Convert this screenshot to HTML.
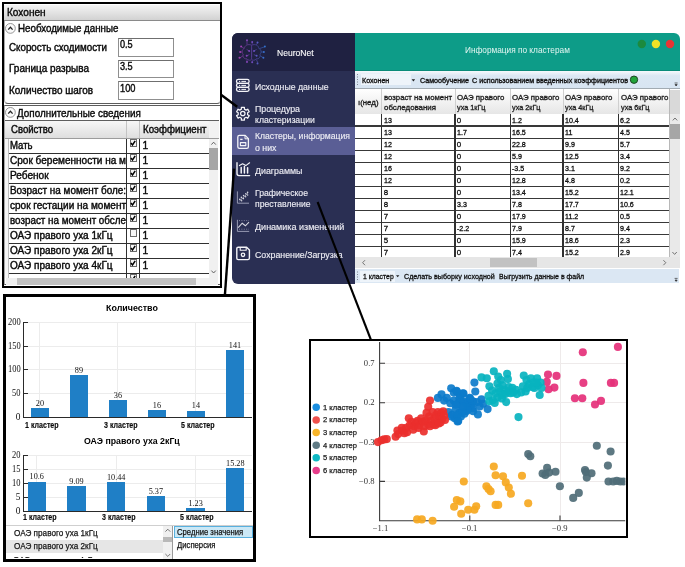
<!DOCTYPE html>
<html lang="ru"><head><meta charset="utf-8"><title>NeuroNet</title>
<style>
html,body{margin:0;padding:0;background:#fff;}
body{width:685px;height:567px;position:relative;overflow:hidden;}
.r{position:absolute;box-sizing:border-box;}
.t{position:absolute;white-space:nowrap;transform-origin:0 50%;}
svg{position:absolute;left:0;top:0;}
</style></head><body>
<div class="r " style="left:1.80px;top:1.80px;width:220.00px;height:285.90px;background:#fff;"></div>
<div class="r " style="left:4.20px;top:4.60px;width:216.00px;height:16.20px;background:linear-gradient(#f4f4f4,#d2d2d2);border-bottom:1px solid #8a8a8a;"></div>
<span class="t" style="left:6.60px;top:6.00px;font:11px/13.20px 'Liberation Sans',sans-serif;color:#0a0a0a;transform:scaleX(0.9155);-webkit-text-stroke:0.4px #0a0a0a;">Кохонен</span>
<div class="r " style="left:3.80px;top:21.20px;width:217.00px;height:82.60px;background:#fff;border:1.5px solid #5c5c5c;border-top:0;border-left:1px solid #a8a8a8;border-right:1px solid #a8a8a8;border-radius:0 0 4px 4px;"></div>
<span class="t" style="left:18.00px;top:22.24px;font:10.6px/12.72px 'Liberation Sans',sans-serif;color:#0a0a0a;transform:scaleX(0.9206);-webkit-text-stroke:0.4px #0a0a0a;">Необходимые данные</span>
<span class="t" style="left:8.60px;top:41.70px;font:10.0px/12.00px 'Liberation Sans',sans-serif;color:#0a0a0a;transform:scaleX(0.9779);-webkit-text-stroke:0.4px #0a0a0a;">Скорость сходимости</span>
<div class="r " style="left:118.00px;top:38.00px;width:55.80px;height:18.70px;background:#fff;border:1.2px solid #8f8f8f;border-top-color:#6f6f6f;"></div>
<span class="t" style="left:119.80px;top:39.16px;font:10.4px/12.48px 'Liberation Sans',sans-serif;color:#0a0a0a;transform:scaleX(0.8784);-webkit-text-stroke:0.4px #0a0a0a;">0.5</span>
<span class="t" style="left:8.60px;top:63.40px;font:10.0px/12.00px 'Liberation Sans',sans-serif;color:#0a0a0a;transform:scaleX(0.9968);-webkit-text-stroke:0.4px #0a0a0a;">Граница разрыва</span>
<div class="r " style="left:118.00px;top:59.70px;width:55.80px;height:18.70px;background:#fff;border:1.2px solid #8f8f8f;border-top-color:#6f6f6f;"></div>
<span class="t" style="left:119.80px;top:60.86px;font:10.4px/12.48px 'Liberation Sans',sans-serif;color:#0a0a0a;transform:scaleX(0.8784);-webkit-text-stroke:0.4px #0a0a0a;">3.5</span>
<span class="t" style="left:8.60px;top:85.10px;font:10.0px/12.00px 'Liberation Sans',sans-serif;color:#0a0a0a;transform:scaleX(0.9957);-webkit-text-stroke:0.4px #0a0a0a;">Количество шагов</span>
<div class="r " style="left:118.00px;top:81.40px;width:55.80px;height:18.70px;background:#fff;border:1.2px solid #8f8f8f;border-top-color:#6f6f6f;"></div>
<span class="t" style="left:119.80px;top:82.56px;font:10.4px/12.48px 'Liberation Sans',sans-serif;color:#0a0a0a;transform:scaleX(0.8933);-webkit-text-stroke:0.4px #0a0a0a;">100</span>
<div class="r " style="left:3.80px;top:105.20px;width:217.00px;height:179.80px;background:#fff;border:1.5px solid #5c5c5c;border-left:1px solid #a8a8a8;border-right:1px solid #a8a8a8;"></div>
<svg width="685" height="567" viewBox="0 0 685 567" style="pointer-events:none"><circle cx="10.4" cy="28.4" r="4.9" fill="#fafafa" stroke="#8a8a8a" stroke-width="0.9"/><path d="M8.2 29.6 L10.4 27.2 L12.6 29.6" fill="none" stroke="#222" stroke-width="1.3"/><circle cx="10.4" cy="112.4" r="4.9" fill="#fafafa" stroke="#8a8a8a" stroke-width="0.9"/><path d="M8.2 113.6 L10.4 111.2 L12.6 113.6" fill="none" stroke="#222" stroke-width="1.3"/></svg>
<span class="t" style="left:17.20px;top:106.74px;font:10.6px/12.72px 'Liberation Sans',sans-serif;color:#0a0a0a;transform:scaleX(0.9329);-webkit-text-stroke:0.4px #0a0a0a;">Дополнительные сведения</span>
<div class="r " style="left:4.80px;top:119.60px;width:214.40px;height:19.20px;background:linear-gradient(#f7f7f7,#dedede);border-top:1.2px solid #5e5e5e;border-bottom:1px solid #9c9c9c;"></div>
<span class="t" style="left:10.70px;top:123.80px;font:10.0px/12.00px 'Liberation Sans',sans-serif;color:#0a0a0a;transform:scaleX(0.9565);-webkit-text-stroke:0.4px #0a0a0a;">Свойство</span>
<span class="t" style="left:142.80px;top:123.90px;font:10.0px/12.00px 'Liberation Sans',sans-serif;color:#0a0a0a;transform:scaleX(0.9694);-webkit-text-stroke:0.4px #0a0a0a;">Коэффициент</span>
<div class="r " style="left:209.20px;top:120.80px;width:10.00px;height:17.60px;background:#f2f2f2;"></div>
<div class="r " style="left:125.50px;top:120.60px;width:1.00px;height:17.80px;background:#c4c4c4;"></div>
<div class="r " style="left:139.10px;top:120.60px;width:1.00px;height:17.80px;background:#c4c4c4;"></div>
<div class="r" style="left:5.6px;top:138.8px;width:203.6px;height:138.8px;overflow:hidden;">
<span class="t" style="left:4.30px;top:1.50px;font:10.0px/12.00px 'Liberation Sans',sans-serif;color:#0a0a0a;transform:scaleX(0.9587);-webkit-text-stroke:0.4px #0a0a0a;">Мать</span>
<div class="r " style="left:0.00px;top:14.40px;width:203.60px;height:1.30px;background:#303030;"></div>
<div class="r " style="left:124.00px;top:0.50px;width:7.60px;height:7.60px;background:#f6f6f6;border:1px solid #6a6a6a;"></div>
<svg width="10" height="10" style="left:122.80px;top:-0.70px"><path d="M2.9 5 L4.5 6.9 L7.2 2.9" fill="none" stroke="#000" stroke-width="1.5"/></svg>
<span class="t" style="left:137.00px;top:0.88px;font:10.2px/12.24px 'Liberation Sans',sans-serif;color:#0a0a0a;-webkit-text-stroke:0.4px #0a0a0a;">1</span>
<span class="t" style="left:4.30px;top:16.50px;font:10.0px/12.00px 'Liberation Sans',sans-serif;color:#0a0a0a;transform:scaleX(1.0041);-webkit-text-stroke:0.4px #0a0a0a;">Срок беременности на м</span>
<div class="r " style="left:0.00px;top:29.40px;width:203.60px;height:1.30px;background:#303030;"></div>
<div class="r " style="left:124.00px;top:15.50px;width:7.60px;height:7.60px;background:#f6f6f6;border:1px solid #6a6a6a;"></div>
<svg width="10" height="10" style="left:122.80px;top:14.30px"><path d="M2.9 5 L4.5 6.9 L7.2 2.9" fill="none" stroke="#000" stroke-width="1.5"/></svg>
<span class="t" style="left:137.00px;top:15.88px;font:10.2px/12.24px 'Liberation Sans',sans-serif;color:#0a0a0a;-webkit-text-stroke:0.4px #0a0a0a;">1</span>
<span class="t" style="left:4.30px;top:31.50px;font:10.0px/12.00px 'Liberation Sans',sans-serif;color:#0a0a0a;transform:scaleX(1.0074);-webkit-text-stroke:0.4px #0a0a0a;">Ребенок</span>
<div class="r " style="left:0.00px;top:44.40px;width:203.60px;height:1.30px;background:#303030;"></div>
<div class="r " style="left:124.00px;top:30.50px;width:7.60px;height:7.60px;background:#f6f6f6;border:1px solid #6a6a6a;"></div>
<svg width="10" height="10" style="left:122.80px;top:29.30px"><path d="M2.9 5 L4.5 6.9 L7.2 2.9" fill="none" stroke="#000" stroke-width="1.5"/></svg>
<span class="t" style="left:137.00px;top:30.88px;font:10.2px/12.24px 'Liberation Sans',sans-serif;color:#0a0a0a;-webkit-text-stroke:0.4px #0a0a0a;">1</span>
<span class="t" style="left:4.30px;top:46.50px;font:10.0px/12.00px 'Liberation Sans',sans-serif;color:#0a0a0a;transform:scaleX(0.9911);-webkit-text-stroke:0.4px #0a0a0a;">Возраст на момент боле:</span>
<div class="r " style="left:0.00px;top:59.40px;width:203.60px;height:1.30px;background:#303030;"></div>
<div class="r " style="left:124.00px;top:45.50px;width:7.60px;height:7.60px;background:#f6f6f6;border:1px solid #6a6a6a;"></div>
<svg width="10" height="10" style="left:122.80px;top:44.30px"><path d="M2.9 5 L4.5 6.9 L7.2 2.9" fill="none" stroke="#000" stroke-width="1.5"/></svg>
<span class="t" style="left:137.00px;top:45.88px;font:10.2px/12.24px 'Liberation Sans',sans-serif;color:#0a0a0a;-webkit-text-stroke:0.4px #0a0a0a;">1</span>
<span class="t" style="left:4.30px;top:61.50px;font:10.0px/12.00px 'Liberation Sans',sans-serif;color:#0a0a0a;transform:scaleX(1.0016);-webkit-text-stroke:0.4px #0a0a0a;">срок гестации на момент</span>
<div class="r " style="left:0.00px;top:74.40px;width:203.60px;height:1.30px;background:#303030;"></div>
<div class="r " style="left:124.00px;top:60.50px;width:7.60px;height:7.60px;background:#f6f6f6;border:1px solid #6a6a6a;"></div>
<svg width="10" height="10" style="left:122.80px;top:59.30px"><path d="M2.9 5 L4.5 6.9 L7.2 2.9" fill="none" stroke="#000" stroke-width="1.5"/></svg>
<span class="t" style="left:137.00px;top:60.88px;font:10.2px/12.24px 'Liberation Sans',sans-serif;color:#0a0a0a;-webkit-text-stroke:0.4px #0a0a0a;">1</span>
<span class="t" style="left:4.30px;top:76.50px;font:10.0px/12.00px 'Liberation Sans',sans-serif;color:#0a0a0a;transform:scaleX(0.9838);-webkit-text-stroke:0.4px #0a0a0a;">возраст на момент обсле</span>
<div class="r " style="left:0.00px;top:89.40px;width:203.60px;height:1.30px;background:#303030;"></div>
<div class="r " style="left:124.00px;top:75.50px;width:7.60px;height:7.60px;background:#f6f6f6;border:1px solid #6a6a6a;"></div>
<svg width="10" height="10" style="left:122.80px;top:74.30px"><path d="M2.9 5 L4.5 6.9 L7.2 2.9" fill="none" stroke="#000" stroke-width="1.5"/></svg>
<span class="t" style="left:137.00px;top:75.88px;font:10.2px/12.24px 'Liberation Sans',sans-serif;color:#0a0a0a;-webkit-text-stroke:0.4px #0a0a0a;">1</span>
<span class="t" style="left:4.30px;top:91.50px;font:10.0px/12.00px 'Liberation Sans',sans-serif;color:#0a0a0a;transform:scaleX(1.0025);-webkit-text-stroke:0.4px #0a0a0a;">ОАЭ правого уха 1кГц</span>
<div class="r " style="left:0.00px;top:104.40px;width:203.60px;height:1.30px;background:#303030;"></div>
<div class="r " style="left:124.00px;top:90.50px;width:7.60px;height:7.60px;background:#f6f6f6;border:1px solid #6a6a6a;"></div>
<span class="t" style="left:137.00px;top:90.88px;font:10.2px/12.24px 'Liberation Sans',sans-serif;color:#0a0a0a;-webkit-text-stroke:0.4px #0a0a0a;">1</span>
<span class="t" style="left:4.30px;top:106.50px;font:10.0px/12.00px 'Liberation Sans',sans-serif;color:#0a0a0a;transform:scaleX(1.0025);-webkit-text-stroke:0.4px #0a0a0a;">ОАЭ правого уха 2кГц</span>
<div class="r " style="left:0.00px;top:119.40px;width:203.60px;height:1.30px;background:#303030;"></div>
<div class="r " style="left:124.00px;top:105.50px;width:7.60px;height:7.60px;background:#f6f6f6;border:1px solid #6a6a6a;"></div>
<svg width="10" height="10" style="left:122.80px;top:104.30px"><path d="M2.9 5 L4.5 6.9 L7.2 2.9" fill="none" stroke="#000" stroke-width="1.5"/></svg>
<span class="t" style="left:137.00px;top:105.88px;font:10.2px/12.24px 'Liberation Sans',sans-serif;color:#0a0a0a;-webkit-text-stroke:0.4px #0a0a0a;">1</span>
<span class="t" style="left:4.30px;top:121.50px;font:10.0px/12.00px 'Liberation Sans',sans-serif;color:#0a0a0a;transform:scaleX(1.0025);-webkit-text-stroke:0.4px #0a0a0a;">ОАЭ правого уха 4кГц</span>
<div class="r " style="left:0.00px;top:134.40px;width:203.60px;height:1.30px;background:#303030;"></div>
<div class="r " style="left:124.00px;top:120.50px;width:7.60px;height:7.60px;background:#f6f6f6;border:1px solid #6a6a6a;"></div>
<svg width="10" height="10" style="left:122.80px;top:119.30px"><path d="M2.9 5 L4.5 6.9 L7.2 2.9" fill="none" stroke="#000" stroke-width="1.5"/></svg>
<span class="t" style="left:137.00px;top:120.88px;font:10.2px/12.24px 'Liberation Sans',sans-serif;color:#0a0a0a;-webkit-text-stroke:0.4px #0a0a0a;">1</span>
<div class="r " style="left:0.00px;top:149.40px;width:203.60px;height:1.30px;background:#303030;"></div>
<div class="r " style="left:124.00px;top:135.50px;width:7.60px;height:7.60px;background:#f6f6f6;border:1px solid #6a6a6a;"></div>
<svg width="10" height="10" style="left:122.80px;top:134.30px"><path d="M2.9 5 L4.5 6.9 L7.2 2.9" fill="none" stroke="#000" stroke-width="1.5"/></svg>
<div class="r " style="left:120.20px;top:0.00px;width:1.60px;height:140.00px;background:#303030;"></div>
<div class="r " style="left:133.50px;top:0.00px;width:1.40px;height:140.00px;background:#303030;"></div>
</div>
<div class="r " style="left:4.80px;top:138.80px;width:3.80px;height:138.80px;background:#f7f7f7;border-right:1px solid #bdbdbd;"></div>
<div class="r " style="left:209.20px;top:138.80px;width:8.40px;height:138.80px;background:#f0f0f0;"></div>
<div class="r " style="left:209.20px;top:148.00px;width:8.40px;height:22.40px;background:#a6a6a6;"></div>
<svg width="685" height="567" viewBox="0 0 685 567"><path d="M211.4 144.6 L213.6 142.2 L215.8 144.6 M211.4 270.6 L213.6 273 L215.8 270.6" fill="none" stroke="#555" stroke-width="0.9"/><path d="M12.4 279.4 L10.4 281.4 L12.4 283.4 M203.6 279.4 L205.6 281.4 L203.6 283.4" fill="none" stroke="#555" stroke-width="0.9"/></svg>
<div class="r " style="left:5.60px;top:277.60px;width:212.00px;height:7.40px;background:#f0f0f0;"></div>
<div class="r " style="left:16.50px;top:277.60px;width:179.50px;height:7.40px;background:#c2c2c2;"></div>
<div class="r " style="left:1.80px;top:1.80px;width:220.00px;height:285.90px;border:2.8px solid #000;"></div>
<div class="r " style="left:232.20px;top:32.80px;width:123.00px;height:251.00px;background:#2a2f53;border-radius:6px 0 0 6px;overflow:hidden;"></div>
<div class="r " style="left:232.20px;top:32.80px;width:123.00px;height:38.00px;background:#1f2141;border-radius:6px 0 0 0;"></div>
<div class="r " style="left:232.20px;top:127.20px;width:123.00px;height:28.00px;background:#5a5e95;"></div>
<span class="t" style="left:276.80px;top:47.78px;font:9.2px/11.04px 'Liberation Sans',sans-serif;color:#fff;transform:scaleX(0.9295);-webkit-text-stroke:0.1px #fff;">NeuroNet</span>
<span class="t" style="left:254.60px;top:80.50px;font:9.5px/11.40px 'Liberation Sans',sans-serif;color:#ececf3;transform:scaleX(0.9169);-webkit-text-stroke:0.15px #ececf3;">Исходные данные</span>
<span class="t" style="left:254.60px;top:102.60px;font:9.5px/11.40px 'Liberation Sans',sans-serif;color:#ececf3;transform:scaleX(0.9267);-webkit-text-stroke:0.15px #ececf3;">Процедура</span>
<span class="t" style="left:254.60px;top:114.30px;font:9.5px/11.40px 'Liberation Sans',sans-serif;color:#ececf3;transform:scaleX(0.9109);-webkit-text-stroke:0.15px #ececf3;">кластеризации</span>
<span class="t" style="left:254.60px;top:130.40px;font:9.5px/11.40px 'Liberation Sans',sans-serif;color:#ececf3;transform:scaleX(0.9076);-webkit-text-stroke:0.15px #ececf3;">Кластеры, информация</span>
<span class="t" style="left:254.60px;top:141.90px;font:9.5px/11.40px 'Liberation Sans',sans-serif;color:#ececf3;transform:scaleX(0.9257);-webkit-text-stroke:0.15px #ececf3;">о них</span>
<span class="t" style="left:254.60px;top:165.40px;font:9.5px/11.40px 'Liberation Sans',sans-serif;color:#ececf3;transform:scaleX(0.9304);-webkit-text-stroke:0.15px #ececf3;">Диаграммы</span>
<span class="t" style="left:254.60px;top:186.80px;font:9.5px/11.40px 'Liberation Sans',sans-serif;color:#ececf3;transform:scaleX(0.9120);-webkit-text-stroke:0.15px #ececf3;">Графическое</span>
<span class="t" style="left:254.60px;top:198.10px;font:9.5px/11.40px 'Liberation Sans',sans-serif;color:#ececf3;transform:scaleX(0.9043);-webkit-text-stroke:0.15px #ececf3;">преставление</span>
<span class="t" style="left:254.60px;top:220.80px;font:9.5px/11.40px 'Liberation Sans',sans-serif;color:#ececf3;transform:scaleX(0.9484);-webkit-text-stroke:0.15px #ececf3;">Динамика изменений</span>
<span class="t" style="left:254.60px;top:248.80px;font:9.5px/11.40px 'Liberation Sans',sans-serif;color:#ececf3;transform:scaleX(0.9253);-webkit-text-stroke:0.15px #ececf3;">Сохранение/Загрузка</span>
<div class="r " style="left:355.20px;top:32.80px;width:324.70px;height:38.20px;background:#0d9c88;border-radius:0 6px 0 0;border-bottom:1px solid #0a8b79;"></div>
<span class="t" style="left:464.80px;top:44.78px;font:9.2px/11.04px 'Liberation Sans',sans-serif;color:#e4f6f2;transform:scaleX(0.9010);">Информация по кластерам</span>
<svg width="685" height="567" viewBox="0 0 685 567"><circle cx="641.8" cy="44" r="4.2" fill="#1c8a3e"/><circle cx="655.9" cy="44" r="4.2" fill="#efe326"/><circle cx="670" cy="44" r="4.2" fill="#e83434"/></svg>
<div class="r " style="left:355.20px;top:71.00px;width:324.70px;height:17.20px;background:linear-gradient(#f6f9fc,#dbe7f3 28%,#d8e5f2);"></div>
<div class="r " style="left:360.60px;top:74.00px;width:50.00px;height:11.20px;background:#eef4fa;"></div>
<span class="t" style="left:362.40px;top:75.90px;font:7.5px/9.00px 'Liberation Sans',sans-serif;color:#111;transform:scaleX(0.9496);-webkit-text-stroke:0.35px #111;">Кохонен</span>
<span class="t" style="left:419.50px;top:75.90px;font:7.5px/9.00px 'Liberation Sans',sans-serif;color:#111;transform:scaleX(0.9490);-webkit-text-stroke:0.35px #111;">Самообучение</span>
<span class="t" style="left:472.00px;top:75.90px;font:7.5px/9.00px 'Liberation Sans',sans-serif;color:#111;transform:scaleX(0.9554);-webkit-text-stroke:0.35px #111;">С использованием введенных коэффициентов</span>
<div class="r " style="left:355.20px;top:88.10px;width:324.70px;height:25.90px;background:linear-gradient(#ffffff,#e6e6e6);border-top:1.1px solid #a2abb2;"></div>
<div class="r " style="left:670.30px;top:89.60px;width:9.60px;height:24.40px;background:#d9d9d9;"></div>
<div class="r " style="left:381.40px;top:89.00px;width:1.00px;height:24.60px;background:#cfcfcf;"></div>
<div class="r " style="left:454.50px;top:89.00px;width:1.00px;height:24.60px;background:#cfcfcf;"></div>
<div class="r " style="left:509.70px;top:89.00px;width:1.00px;height:24.60px;background:#cfcfcf;"></div>
<div class="r " style="left:562.50px;top:89.00px;width:1.00px;height:24.60px;background:#cfcfcf;"></div>
<div class="r " style="left:618.20px;top:89.00px;width:1.00px;height:24.60px;background:#cfcfcf;"></div>
<div class="r " style="left:669.30px;top:89.00px;width:1.00px;height:24.60px;background:#cfcfcf;"></div>
<span class="t" style="left:358.00px;top:97.72px;font:7.8px/9.36px 'Liberation Sans',sans-serif;color:#1c1c1c;transform:scaleX(1.0055);-webkit-text-stroke:0.32px #1c1c1c;">ı(нед)</span>
<span class="t" style="left:383.50px;top:92.50px;font:8.0px/9.60px 'Liberation Sans',sans-serif;color:#1c1c1c;transform:scaleX(0.9708);-webkit-text-stroke:0.32px #1c1c1c;">возраст на момент</span>
<span class="t" style="left:383.50px;top:102.70px;font:8.0px/9.60px 'Liberation Sans',sans-serif;color:#1c1c1c;transform:scaleX(0.9843);-webkit-text-stroke:0.32px #1c1c1c;">обследования</span>
<span class="t" style="left:457.20px;top:92.50px;font:8.0px/9.60px 'Liberation Sans',sans-serif;color:#1c1c1c;transform:scaleX(0.9832);-webkit-text-stroke:0.32px #1c1c1c;">ОАЭ правого</span>
<span class="t" style="left:457.20px;top:102.70px;font:8.0px/9.60px 'Liberation Sans',sans-serif;color:#1c1c1c;transform:scaleX(0.9063);-webkit-text-stroke:0.32px #1c1c1c;">уха 1кГц</span>
<span class="t" style="left:512.40px;top:92.50px;font:8.0px/9.60px 'Liberation Sans',sans-serif;color:#1c1c1c;transform:scaleX(0.9832);-webkit-text-stroke:0.32px #1c1c1c;">ОАЭ правого</span>
<span class="t" style="left:512.40px;top:102.70px;font:8.0px/9.60px 'Liberation Sans',sans-serif;color:#1c1c1c;transform:scaleX(0.9063);-webkit-text-stroke:0.32px #1c1c1c;">уха 2кГц</span>
<span class="t" style="left:565.20px;top:92.50px;font:8.0px/9.60px 'Liberation Sans',sans-serif;color:#1c1c1c;transform:scaleX(0.9832);-webkit-text-stroke:0.32px #1c1c1c;">ОАЭ правого</span>
<span class="t" style="left:565.20px;top:102.70px;font:8.0px/9.60px 'Liberation Sans',sans-serif;color:#1c1c1c;transform:scaleX(0.9063);-webkit-text-stroke:0.32px #1c1c1c;">уха 4кГц</span>
<span class="t" style="left:620.90px;top:92.50px;font:8.0px/9.60px 'Liberation Sans',sans-serif;color:#1c1c1c;transform:scaleX(0.9832);-webkit-text-stroke:0.32px #1c1c1c;">ОАЭ правого</span>
<span class="t" style="left:620.90px;top:102.70px;font:8.0px/9.60px 'Liberation Sans',sans-serif;color:#1c1c1c;transform:scaleX(0.9063);-webkit-text-stroke:0.32px #1c1c1c;">уха 6кГц</span>
<div class="r" style="left:355.2px;top:114.0px;width:314.6px;height:143.2px;overflow:hidden;background:#fff;">
<div class="r " style="left:0.00px;top:11.48px;width:314.60px;height:1.20px;background:#383838;"></div>
<span class="t" style="left:28.50px;top:1.56px;font:7.9px/9.48px 'Liberation Sans',sans-serif;color:#0c0c0c;transform:scaleX(0.9000);-webkit-text-stroke:0.3px #0c0c0c;">13</span>
<span class="t" style="left:101.60px;top:1.56px;font:7.9px/9.48px 'Liberation Sans',sans-serif;color:#0c0c0c;-webkit-text-stroke:0.3px #0c0c0c;">0</span>
<span class="t" style="left:156.80px;top:1.56px;font:7.9px/9.48px 'Liberation Sans',sans-serif;color:#0c0c0c;transform:scaleX(0.9000);-webkit-text-stroke:0.3px #0c0c0c;">1.2</span>
<span class="t" style="left:209.60px;top:1.56px;font:7.9px/9.48px 'Liberation Sans',sans-serif;color:#0c0c0c;transform:scaleX(0.9000);-webkit-text-stroke:0.3px #0c0c0c;">10.4</span>
<span class="t" style="left:265.30px;top:1.56px;font:7.9px/9.48px 'Liberation Sans',sans-serif;color:#0c0c0c;transform:scaleX(0.9000);-webkit-text-stroke:0.3px #0c0c0c;">6.2</span>
<div class="r " style="left:0.00px;top:23.56px;width:314.60px;height:1.20px;background:#383838;"></div>
<span class="t" style="left:28.50px;top:13.64px;font:7.9px/9.48px 'Liberation Sans',sans-serif;color:#0c0c0c;transform:scaleX(0.9000);-webkit-text-stroke:0.3px #0c0c0c;">13</span>
<span class="t" style="left:101.60px;top:13.64px;font:7.9px/9.48px 'Liberation Sans',sans-serif;color:#0c0c0c;transform:scaleX(0.9000);-webkit-text-stroke:0.3px #0c0c0c;">1.7</span>
<span class="t" style="left:156.80px;top:13.64px;font:7.9px/9.48px 'Liberation Sans',sans-serif;color:#0c0c0c;transform:scaleX(0.9000);-webkit-text-stroke:0.3px #0c0c0c;">16.5</span>
<span class="t" style="left:209.60px;top:13.64px;font:7.9px/9.48px 'Liberation Sans',sans-serif;color:#0c0c0c;transform:scaleX(0.9000);-webkit-text-stroke:0.3px #0c0c0c;">11</span>
<span class="t" style="left:265.30px;top:13.64px;font:7.9px/9.48px 'Liberation Sans',sans-serif;color:#0c0c0c;transform:scaleX(0.9000);-webkit-text-stroke:0.3px #0c0c0c;">4.5</span>
<div class="r " style="left:0.00px;top:35.64px;width:314.60px;height:1.20px;background:#383838;"></div>
<span class="t" style="left:28.50px;top:25.72px;font:7.9px/9.48px 'Liberation Sans',sans-serif;color:#0c0c0c;transform:scaleX(0.9000);-webkit-text-stroke:0.3px #0c0c0c;">12</span>
<span class="t" style="left:101.60px;top:25.72px;font:7.9px/9.48px 'Liberation Sans',sans-serif;color:#0c0c0c;-webkit-text-stroke:0.3px #0c0c0c;">0</span>
<span class="t" style="left:156.80px;top:25.72px;font:7.9px/9.48px 'Liberation Sans',sans-serif;color:#0c0c0c;transform:scaleX(0.9000);-webkit-text-stroke:0.3px #0c0c0c;">22.8</span>
<span class="t" style="left:209.60px;top:25.72px;font:7.9px/9.48px 'Liberation Sans',sans-serif;color:#0c0c0c;transform:scaleX(0.9000);-webkit-text-stroke:0.3px #0c0c0c;">9.9</span>
<span class="t" style="left:265.30px;top:25.72px;font:7.9px/9.48px 'Liberation Sans',sans-serif;color:#0c0c0c;transform:scaleX(0.9000);-webkit-text-stroke:0.3px #0c0c0c;">5.7</span>
<div class="r " style="left:0.00px;top:47.72px;width:314.60px;height:1.20px;background:#383838;"></div>
<span class="t" style="left:28.50px;top:37.80px;font:7.9px/9.48px 'Liberation Sans',sans-serif;color:#0c0c0c;transform:scaleX(0.9000);-webkit-text-stroke:0.3px #0c0c0c;">12</span>
<span class="t" style="left:101.60px;top:37.80px;font:7.9px/9.48px 'Liberation Sans',sans-serif;color:#0c0c0c;-webkit-text-stroke:0.3px #0c0c0c;">0</span>
<span class="t" style="left:156.80px;top:37.80px;font:7.9px/9.48px 'Liberation Sans',sans-serif;color:#0c0c0c;transform:scaleX(0.9000);-webkit-text-stroke:0.3px #0c0c0c;">5.9</span>
<span class="t" style="left:209.60px;top:37.80px;font:7.9px/9.48px 'Liberation Sans',sans-serif;color:#0c0c0c;transform:scaleX(0.9000);-webkit-text-stroke:0.3px #0c0c0c;">12.5</span>
<span class="t" style="left:265.30px;top:37.80px;font:7.9px/9.48px 'Liberation Sans',sans-serif;color:#0c0c0c;transform:scaleX(0.9000);-webkit-text-stroke:0.3px #0c0c0c;">3.4</span>
<div class="r " style="left:0.00px;top:59.80px;width:314.60px;height:1.20px;background:#383838;"></div>
<span class="t" style="left:28.50px;top:49.88px;font:7.9px/9.48px 'Liberation Sans',sans-serif;color:#0c0c0c;transform:scaleX(0.9000);-webkit-text-stroke:0.3px #0c0c0c;">16</span>
<span class="t" style="left:101.60px;top:49.88px;font:7.9px/9.48px 'Liberation Sans',sans-serif;color:#0c0c0c;-webkit-text-stroke:0.3px #0c0c0c;">0</span>
<span class="t" style="left:156.80px;top:49.88px;font:7.9px/9.48px 'Liberation Sans',sans-serif;color:#0c0c0c;transform:scaleX(0.9000);-webkit-text-stroke:0.3px #0c0c0c;">-3.5</span>
<span class="t" style="left:209.60px;top:49.88px;font:7.9px/9.48px 'Liberation Sans',sans-serif;color:#0c0c0c;transform:scaleX(0.9000);-webkit-text-stroke:0.3px #0c0c0c;">3.1</span>
<span class="t" style="left:265.30px;top:49.88px;font:7.9px/9.48px 'Liberation Sans',sans-serif;color:#0c0c0c;transform:scaleX(0.9000);-webkit-text-stroke:0.3px #0c0c0c;">9.2</span>
<div class="r " style="left:0.00px;top:71.88px;width:314.60px;height:1.20px;background:#383838;"></div>
<span class="t" style="left:28.50px;top:61.96px;font:7.9px/9.48px 'Liberation Sans',sans-serif;color:#0c0c0c;transform:scaleX(0.9000);-webkit-text-stroke:0.3px #0c0c0c;">12</span>
<span class="t" style="left:101.60px;top:61.96px;font:7.9px/9.48px 'Liberation Sans',sans-serif;color:#0c0c0c;-webkit-text-stroke:0.3px #0c0c0c;">0</span>
<span class="t" style="left:156.80px;top:61.96px;font:7.9px/9.48px 'Liberation Sans',sans-serif;color:#0c0c0c;transform:scaleX(0.9000);-webkit-text-stroke:0.3px #0c0c0c;">12.8</span>
<span class="t" style="left:209.60px;top:61.96px;font:7.9px/9.48px 'Liberation Sans',sans-serif;color:#0c0c0c;transform:scaleX(0.9000);-webkit-text-stroke:0.3px #0c0c0c;">4.8</span>
<span class="t" style="left:265.30px;top:61.96px;font:7.9px/9.48px 'Liberation Sans',sans-serif;color:#0c0c0c;transform:scaleX(0.9000);-webkit-text-stroke:0.3px #0c0c0c;">0.2</span>
<div class="r " style="left:0.00px;top:83.96px;width:314.60px;height:1.20px;background:#383838;"></div>
<span class="t" style="left:28.50px;top:74.04px;font:7.9px/9.48px 'Liberation Sans',sans-serif;color:#0c0c0c;-webkit-text-stroke:0.3px #0c0c0c;">8</span>
<span class="t" style="left:101.60px;top:74.04px;font:7.9px/9.48px 'Liberation Sans',sans-serif;color:#0c0c0c;-webkit-text-stroke:0.3px #0c0c0c;">0</span>
<span class="t" style="left:156.80px;top:74.04px;font:7.9px/9.48px 'Liberation Sans',sans-serif;color:#0c0c0c;transform:scaleX(0.9000);-webkit-text-stroke:0.3px #0c0c0c;">13.4</span>
<span class="t" style="left:209.60px;top:74.04px;font:7.9px/9.48px 'Liberation Sans',sans-serif;color:#0c0c0c;transform:scaleX(0.9000);-webkit-text-stroke:0.3px #0c0c0c;">15.2</span>
<span class="t" style="left:265.30px;top:74.04px;font:7.9px/9.48px 'Liberation Sans',sans-serif;color:#0c0c0c;transform:scaleX(0.9000);-webkit-text-stroke:0.3px #0c0c0c;">12.1</span>
<div class="r " style="left:0.00px;top:96.04px;width:314.60px;height:1.20px;background:#383838;"></div>
<span class="t" style="left:28.50px;top:86.12px;font:7.9px/9.48px 'Liberation Sans',sans-serif;color:#0c0c0c;-webkit-text-stroke:0.3px #0c0c0c;">8</span>
<span class="t" style="left:101.60px;top:86.12px;font:7.9px/9.48px 'Liberation Sans',sans-serif;color:#0c0c0c;transform:scaleX(0.9000);-webkit-text-stroke:0.3px #0c0c0c;">3.3</span>
<span class="t" style="left:156.80px;top:86.12px;font:7.9px/9.48px 'Liberation Sans',sans-serif;color:#0c0c0c;transform:scaleX(0.9000);-webkit-text-stroke:0.3px #0c0c0c;">7.8</span>
<span class="t" style="left:209.60px;top:86.12px;font:7.9px/9.48px 'Liberation Sans',sans-serif;color:#0c0c0c;transform:scaleX(0.9000);-webkit-text-stroke:0.3px #0c0c0c;">17.7</span>
<span class="t" style="left:265.30px;top:86.12px;font:7.9px/9.48px 'Liberation Sans',sans-serif;color:#0c0c0c;transform:scaleX(0.9000);-webkit-text-stroke:0.3px #0c0c0c;">10.6</span>
<div class="r " style="left:0.00px;top:108.12px;width:314.60px;height:1.20px;background:#383838;"></div>
<span class="t" style="left:28.50px;top:98.20px;font:7.9px/9.48px 'Liberation Sans',sans-serif;color:#0c0c0c;-webkit-text-stroke:0.3px #0c0c0c;">7</span>
<span class="t" style="left:101.60px;top:98.20px;font:7.9px/9.48px 'Liberation Sans',sans-serif;color:#0c0c0c;-webkit-text-stroke:0.3px #0c0c0c;">0</span>
<span class="t" style="left:156.80px;top:98.20px;font:7.9px/9.48px 'Liberation Sans',sans-serif;color:#0c0c0c;transform:scaleX(0.9000);-webkit-text-stroke:0.3px #0c0c0c;">17.9</span>
<span class="t" style="left:209.60px;top:98.20px;font:7.9px/9.48px 'Liberation Sans',sans-serif;color:#0c0c0c;transform:scaleX(0.9000);-webkit-text-stroke:0.3px #0c0c0c;">11.2</span>
<span class="t" style="left:265.30px;top:98.20px;font:7.9px/9.48px 'Liberation Sans',sans-serif;color:#0c0c0c;transform:scaleX(0.9000);-webkit-text-stroke:0.3px #0c0c0c;">0.5</span>
<div class="r " style="left:0.00px;top:120.20px;width:314.60px;height:1.20px;background:#383838;"></div>
<span class="t" style="left:28.50px;top:110.28px;font:7.9px/9.48px 'Liberation Sans',sans-serif;color:#0c0c0c;-webkit-text-stroke:0.3px #0c0c0c;">7</span>
<span class="t" style="left:101.60px;top:110.28px;font:7.9px/9.48px 'Liberation Sans',sans-serif;color:#0c0c0c;transform:scaleX(0.9000);-webkit-text-stroke:0.3px #0c0c0c;">-2.2</span>
<span class="t" style="left:156.80px;top:110.28px;font:7.9px/9.48px 'Liberation Sans',sans-serif;color:#0c0c0c;transform:scaleX(0.9000);-webkit-text-stroke:0.3px #0c0c0c;">7.9</span>
<span class="t" style="left:209.60px;top:110.28px;font:7.9px/9.48px 'Liberation Sans',sans-serif;color:#0c0c0c;transform:scaleX(0.9000);-webkit-text-stroke:0.3px #0c0c0c;">8.7</span>
<span class="t" style="left:265.30px;top:110.28px;font:7.9px/9.48px 'Liberation Sans',sans-serif;color:#0c0c0c;transform:scaleX(0.9000);-webkit-text-stroke:0.3px #0c0c0c;">9.4</span>
<div class="r " style="left:0.00px;top:132.28px;width:314.60px;height:1.20px;background:#383838;"></div>
<span class="t" style="left:28.50px;top:122.36px;font:7.9px/9.48px 'Liberation Sans',sans-serif;color:#0c0c0c;-webkit-text-stroke:0.3px #0c0c0c;">5</span>
<span class="t" style="left:101.60px;top:122.36px;font:7.9px/9.48px 'Liberation Sans',sans-serif;color:#0c0c0c;-webkit-text-stroke:0.3px #0c0c0c;">0</span>
<span class="t" style="left:156.80px;top:122.36px;font:7.9px/9.48px 'Liberation Sans',sans-serif;color:#0c0c0c;transform:scaleX(0.9000);-webkit-text-stroke:0.3px #0c0c0c;">15.9</span>
<span class="t" style="left:209.60px;top:122.36px;font:7.9px/9.48px 'Liberation Sans',sans-serif;color:#0c0c0c;transform:scaleX(0.9000);-webkit-text-stroke:0.3px #0c0c0c;">18.6</span>
<span class="t" style="left:265.30px;top:122.36px;font:7.9px/9.48px 'Liberation Sans',sans-serif;color:#0c0c0c;transform:scaleX(0.9000);-webkit-text-stroke:0.3px #0c0c0c;">2.3</span>
<div class="r " style="left:0.00px;top:144.36px;width:314.60px;height:1.20px;background:#383838;"></div>
<span class="t" style="left:28.50px;top:134.44px;font:7.9px/9.48px 'Liberation Sans',sans-serif;color:#0c0c0c;-webkit-text-stroke:0.3px #0c0c0c;">7</span>
<span class="t" style="left:101.60px;top:134.44px;font:7.9px/9.48px 'Liberation Sans',sans-serif;color:#0c0c0c;-webkit-text-stroke:0.3px #0c0c0c;">0</span>
<span class="t" style="left:156.80px;top:134.44px;font:7.9px/9.48px 'Liberation Sans',sans-serif;color:#0c0c0c;transform:scaleX(0.9000);-webkit-text-stroke:0.3px #0c0c0c;">7.4</span>
<span class="t" style="left:209.60px;top:134.44px;font:7.9px/9.48px 'Liberation Sans',sans-serif;color:#0c0c0c;transform:scaleX(0.9000);-webkit-text-stroke:0.3px #0c0c0c;">15.2</span>
<span class="t" style="left:265.30px;top:134.44px;font:7.9px/9.48px 'Liberation Sans',sans-serif;color:#0c0c0c;transform:scaleX(0.9000);-webkit-text-stroke:0.3px #0c0c0c;">2.9</span>
<div class="r " style="left:26.10px;top:0.00px;width:1.20px;height:150.00px;background:#303030;"></div>
<div class="r " style="left:99.20px;top:0.00px;width:1.20px;height:150.00px;background:#303030;"></div>
<div class="r " style="left:154.40px;top:0.00px;width:1.20px;height:150.00px;background:#303030;"></div>
<div class="r " style="left:207.20px;top:0.00px;width:1.20px;height:150.00px;background:#303030;"></div>
<div class="r " style="left:262.90px;top:0.00px;width:1.20px;height:150.00px;background:#303030;"></div>
</div>
<div class="r " style="left:669.30px;top:88.60px;width:1.00px;height:168.60px;background:#b8b8b8;"></div>
<div class="r " style="left:670.30px;top:114.00px;width:9.60px;height:143.20px;background:#e9e9e9;"></div>
<div class="r " style="left:670.30px;top:124.00px;width:9.60px;height:15.00px;background:#a6a6a6;"></div>
<div class="r " style="left:355.20px;top:257.20px;width:324.70px;height:10.60px;background:#e6e6e6;"></div>
<div class="r " style="left:490.00px;top:258.20px;width:46.70px;height:8.80px;background:#c2c2c2;"></div>
<svg width="685" height="567" viewBox="0 0 685 567"><path d="M672.8 120.4 L675 118 L677.2 120.4 M672.4 252 L674.6 254.4 L676.8 252 M365 260.2 L362.6 262.7 L365 265.2 M663.4 260.2 L665.8 262.7 L663.4 265.2" fill="none" stroke="#666" stroke-width="0.9"/></svg>
<div class="r " style="left:355.20px;top:269.00px;width:323.60px;height:14.00px;background:#dbe7f3;"></div>
<div class="r " style="left:360.00px;top:270.60px;width:35.00px;height:11.60px;background:#eef4fa;"></div>
<span class="t" style="left:362.80px;top:271.70px;font:7.5px/9.00px 'Liberation Sans',sans-serif;color:#111;transform:scaleX(0.9134);-webkit-text-stroke:0.3px #111;">1 кластер</span>
<span class="t" style="left:404.20px;top:271.70px;font:7.5px/9.00px 'Liberation Sans',sans-serif;color:#111;transform:scaleX(0.9535);-webkit-text-stroke:0.3px #111;">Сделать выборку исходной</span>
<span class="t" style="left:498.80px;top:271.70px;font:7.5px/9.00px 'Liberation Sans',sans-serif;color:#111;transform:scaleX(0.9314);-webkit-text-stroke:0.3px #111;">Выгрузить данные в файл</span>
<svg width="685" height="567" viewBox="0 0 685 567"><path d="M411.6 79.2 h3.6 l-1.8 2.2 z M396 275.2 h3.4 l-1.7 2.1 z" fill="#222"/><circle cx="634" cy="79.7" r="3.7" fill="#22a43a" stroke="#1a3a1c" stroke-width="0.9"/><g fill="#7d8894"><rect x="357" y="74" width="1" height="1"/><rect x="357" y="76.5" width="1" height="1"/><rect x="357" y="79" width="1" height="1"/><rect x="357" y="81.5" width="1" height="1"/><rect x="357" y="84" width="1" height="1"/><rect x="357" y="271.5" width="1" height="1"/><rect x="357" y="274" width="1" height="1"/><rect x="357" y="276.5" width="1" height="1"/><rect x="357" y="279" width="1" height="1"/></g><path d="M674.6 83 h3 M675 84.6 h2.2 l-1.1 1.4 z M674.6 278.4 h3 M675 280 h2.2 l-1.1 1.4 z" fill="#333" stroke="#333" stroke-width="0.7"/></svg>
<svg width="685" height="567" viewBox="0 0 685 567"><g stroke="#000" stroke-width="2.1" fill="none"><path d="M221 94.8 L237.2 106.7" stroke-width="2.4"/><path d="M234 168.6 L224.9 295" stroke-width="2.4"/><path d="M317.6 202 L371 340"/></g></svg>
<div class="r " style="left:2.80px;top:294.00px;width:253.60px;height:267.80px;background:#fff;border:3px solid #000;"></div>
<div class="r " style="left:24.00px;top:393.10px;width:228.00px;height:1.00px;background:#ececec;"></div>
<div class="r " style="left:24.00px;top:369.40px;width:228.00px;height:1.00px;background:#ececec;"></div>
<div class="r " style="left:24.00px;top:345.70px;width:228.00px;height:1.00px;background:#ececec;"></div>
<div class="r " style="left:24.00px;top:322.00px;width:228.00px;height:1.00px;background:#ececec;"></div>
<div class="r " style="left:39.45px;top:322.50px;width:1.00px;height:94.80px;background:#ececec;"></div>
<div class="r " style="left:117.45px;top:322.50px;width:1.00px;height:94.80px;background:#ececec;"></div>
<div class="r " style="left:195.45px;top:322.50px;width:1.00px;height:94.80px;background:#ececec;"></div>
<span class="t" style="left:105.80px;top:302.26px;font:bold 9.4px/11.28px 'Liberation Sans',sans-serif;color:#000;transform:scaleX(0.9492);">Количество</span>
<div class="r " style="left:30.70px;top:407.82px;width:18.50px;height:9.48px;background:#1f7fc6;"></div>
<span class="t" style="left:35.85px;top:398.60px;font:8.2px/9.84px 'Liberation Serif',serif;color:#111;">20</span>
<div class="r " style="left:69.70px;top:375.11px;width:18.50px;height:42.19px;background:#1f7fc6;"></div>
<span class="t" style="left:74.85px;top:365.89px;font:8.2px/9.84px 'Liberation Serif',serif;color:#111;">89</span>
<div class="r " style="left:108.70px;top:400.24px;width:18.50px;height:17.06px;background:#1f7fc6;"></div>
<span class="t" style="left:113.85px;top:391.02px;font:8.2px/9.84px 'Liberation Serif',serif;color:#111;">36</span>
<div class="r " style="left:147.70px;top:409.72px;width:18.50px;height:7.58px;background:#1f7fc6;"></div>
<span class="t" style="left:152.85px;top:400.50px;font:8.2px/9.84px 'Liberation Serif',serif;color:#111;">16</span>
<div class="r " style="left:186.70px;top:410.66px;width:18.50px;height:6.64px;background:#1f7fc6;"></div>
<span class="t" style="left:191.85px;top:401.44px;font:8.2px/9.84px 'Liberation Serif',serif;color:#111;">14</span>
<div class="r " style="left:225.70px;top:350.47px;width:18.50px;height:66.83px;background:#1f7fc6;"></div>
<span class="t" style="left:228.80px;top:341.25px;font:8.2px/9.84px 'Liberation Serif',serif;color:#111;">141</span>
<div class="r " style="left:23.20px;top:322.00px;width:1.20px;height:95.80px;background:#2a2a2a;"></div>
<div class="r " style="left:23.20px;top:416.70px;width:228.80px;height:1.20px;background:#2a2a2a;"></div>
<span class="t" style="left:15.70px;top:411.66px;font:9.4px/11.28px 'Liberation Serif',serif;color:#111;">0</span>
<div class="r " style="left:23.80px;top:393.10px;width:3.80px;height:1.00px;background:#2a2a2a;"></div>
<span class="t" style="left:11.90px;top:387.96px;font:9.4px/11.28px 'Liberation Serif',serif;color:#111;transform:scaleX(0.9043);">50</span>
<div class="r " style="left:23.80px;top:369.40px;width:3.80px;height:1.00px;background:#2a2a2a;"></div>
<span class="t" style="left:7.65px;top:364.26px;font:9.4px/11.28px 'Liberation Serif',serif;color:#111;transform:scaleX(0.9043);">100</span>
<div class="r " style="left:23.80px;top:345.70px;width:3.80px;height:1.00px;background:#2a2a2a;"></div>
<span class="t" style="left:7.65px;top:340.56px;font:9.4px/11.28px 'Liberation Serif',serif;color:#111;transform:scaleX(0.9043);">150</span>
<div class="r " style="left:23.80px;top:322.00px;width:3.80px;height:1.00px;background:#2a2a2a;"></div>
<span class="t" style="left:7.65px;top:316.86px;font:9.4px/11.28px 'Liberation Serif',serif;color:#111;transform:scaleX(0.9043);">200</span>
<span class="t" style="left:24.50px;top:420.00px;font:bold 8.5px/10.20px 'Liberation Sans',sans-serif;color:#0a0a0a;transform:scaleX(0.8320);-webkit-text-stroke:0.15px #0a0a0a;">1 кластер</span>
<span class="t" style="left:103.50px;top:420.00px;font:bold 8.5px/10.20px 'Liberation Sans',sans-serif;color:#0a0a0a;transform:scaleX(0.8320);-webkit-text-stroke:0.15px #0a0a0a;">3 кластер</span>
<span class="t" style="left:181.10px;top:420.00px;font:bold 8.5px/10.20px 'Liberation Sans',sans-serif;color:#0a0a0a;transform:scaleX(0.8320);-webkit-text-stroke:0.15px #0a0a0a;">5 кластер</span>
<div class="r " style="left:24.00px;top:496.93px;width:228.00px;height:1.00px;background:#ececec;"></div>
<div class="r " style="left:24.00px;top:482.85px;width:228.00px;height:1.00px;background:#ececec;"></div>
<div class="r " style="left:24.00px;top:468.77px;width:228.00px;height:1.00px;background:#ececec;"></div>
<div class="r " style="left:24.00px;top:454.70px;width:228.00px;height:1.00px;background:#ececec;"></div>
<div class="r " style="left:36.30px;top:455.20px;width:1.00px;height:56.30px;background:#ececec;"></div>
<div class="r " style="left:115.70px;top:455.20px;width:1.00px;height:56.30px;background:#ececec;"></div>
<div class="r " style="left:195.10px;top:455.20px;width:1.00px;height:56.30px;background:#ececec;"></div>
<span class="t" style="left:83.80px;top:434.96px;font:bold 9.4px/11.28px 'Liberation Sans',sans-serif;color:#000;transform:scaleX(0.9360);">ОАЭ правого уха 2кГц</span>
<div class="r " style="left:27.60px;top:481.66px;width:18.40px;height:29.84px;background:#1f7fc6;"></div>
<span class="t" style="left:29.62px;top:472.44px;font:8.2px/9.84px 'Liberation Serif',serif;color:#111;">10.6</span>
<div class="r " style="left:67.30px;top:485.91px;width:18.40px;height:25.59px;background:#1f7fc6;"></div>
<span class="t" style="left:69.33px;top:476.69px;font:8.2px/9.84px 'Liberation Serif',serif;color:#111;">9.09</span>
<div class="r " style="left:107.00px;top:482.11px;width:18.40px;height:29.39px;background:#1f7fc6;"></div>
<span class="t" style="left:106.98px;top:472.89px;font:8.2px/9.84px 'Liberation Serif',serif;color:#111;">10.44</span>
<div class="r " style="left:146.70px;top:496.38px;width:18.40px;height:15.12px;background:#1f7fc6;"></div>
<span class="t" style="left:148.72px;top:487.16px;font:8.2px/9.84px 'Liberation Serif',serif;color:#111;">5.37</span>
<div class="r " style="left:186.40px;top:508.04px;width:18.40px;height:3.46px;background:#1f7fc6;"></div>
<span class="t" style="left:188.42px;top:498.82px;font:8.2px/9.84px 'Liberation Serif',serif;color:#111;">1.23</span>
<div class="r " style="left:226.10px;top:468.49px;width:18.40px;height:43.01px;background:#1f7fc6;"></div>
<span class="t" style="left:226.07px;top:459.27px;font:8.2px/9.84px 'Liberation Serif',serif;color:#111;">15.28</span>
<div class="r " style="left:23.20px;top:454.70px;width:1.20px;height:57.30px;background:#2a2a2a;"></div>
<div class="r " style="left:23.20px;top:510.90px;width:228.80px;height:1.20px;background:#2a2a2a;"></div>
<span class="t" style="left:15.70px;top:505.86px;font:9.4px/11.28px 'Liberation Serif',serif;color:#111;">0</span>
<div class="r " style="left:23.80px;top:496.93px;width:3.80px;height:1.00px;background:#2a2a2a;"></div>
<span class="t" style="left:15.70px;top:491.79px;font:9.4px/11.28px 'Liberation Serif',serif;color:#111;">5</span>
<div class="r " style="left:23.80px;top:482.85px;width:3.80px;height:1.00px;background:#2a2a2a;"></div>
<span class="t" style="left:11.90px;top:477.71px;font:9.4px/11.28px 'Liberation Serif',serif;color:#111;transform:scaleX(0.9043);">10</span>
<div class="r " style="left:23.80px;top:468.77px;width:3.80px;height:1.00px;background:#2a2a2a;"></div>
<span class="t" style="left:11.90px;top:463.63px;font:9.4px/11.28px 'Liberation Serif',serif;color:#111;transform:scaleX(0.9043);">15</span>
<div class="r " style="left:23.80px;top:454.70px;width:3.80px;height:1.00px;background:#2a2a2a;"></div>
<span class="t" style="left:11.90px;top:449.56px;font:9.4px/11.28px 'Liberation Serif',serif;color:#111;transform:scaleX(0.9043);">20</span>
<span class="t" style="left:23.00px;top:512.40px;font:bold 8.5px/10.20px 'Liberation Sans',sans-serif;color:#0a0a0a;transform:scaleX(0.8320);-webkit-text-stroke:0.15px #0a0a0a;">1 кластер</span>
<span class="t" style="left:101.80px;top:512.40px;font:bold 8.5px/10.20px 'Liberation Sans',sans-serif;color:#0a0a0a;transform:scaleX(0.8320);-webkit-text-stroke:0.15px #0a0a0a;">3 кластер</span>
<span class="t" style="left:179.60px;top:512.40px;font:bold 8.5px/10.20px 'Liberation Sans',sans-serif;color:#0a0a0a;transform:scaleX(0.8320);-webkit-text-stroke:0.15px #0a0a0a;">5 кластер</span>
<div class="r " style="left:5.80px;top:524.50px;width:247.60px;height:1.00px;background:#cfcfcf;"></div>
<div class="r " style="left:5.80px;top:539.80px;width:157.40px;height:13.20px;background:#e6e6e6;"></div>
<span class="t" style="left:13.50px;top:526.76px;font:9.4px/11.28px 'Liberation Sans',sans-serif;color:#151515;transform:scaleX(0.8731);-webkit-text-stroke:0.25px #151515;">ОАЭ правого уха 1кГц</span>
<span class="t" style="left:13.50px;top:539.86px;font:9.4px/11.28px 'Liberation Sans',sans-serif;color:#151515;transform:scaleX(0.8731);-webkit-text-stroke:0.25px #151515;">ОАЭ правого уха 2кГц</span>
<div class="r" style="left:5.8px;top:553px;width:157px;height:5.4px;overflow:hidden;">
<span class="t" style="left:7.70px;top:0.96px;font:9.4px/11.28px 'Liberation Sans',sans-serif;color:#151515;transform:scaleX(0.8731);-webkit-text-stroke:0.25px #151515;">ОАЭ правого уха 4кГц</span>
</div>
<div class="r " style="left:163.20px;top:525.50px;width:9.20px;height:33.00px;background:#f0f0f0;"></div>
<div class="r " style="left:163.20px;top:537.40px;width:9.20px;height:4.40px;background:#b9b9b9;"></div>
<div class="r " style="left:172.40px;top:525.50px;width:1.00px;height:33.00px;background:#9a9a9a;"></div>
<div class="r " style="left:173.60px;top:525.80px;width:79.80px;height:12.40px;background:#cbe8f6;border:1px solid #58b0de;"></div>
<span class="t" style="left:176.60px;top:527.26px;font:8.9px/10.68px 'Liberation Sans',sans-serif;color:#151515;transform:scaleX(0.8660);-webkit-text-stroke:0.25px #151515;">Средние значения</span>
<span class="t" style="left:176.60px;top:540.46px;font:8.9px/10.68px 'Liberation Sans',sans-serif;color:#151515;transform:scaleX(0.8692);-webkit-text-stroke:0.25px #151515;">Дисперсия</span>
<svg width="685" height="567" viewBox="0 0 685 567"><path d="M165.4 531.6 L167.8 529.2 L170.2 531.6 M165.4 554 L167.8 556.4 L170.2 554" fill="none" stroke="#666" stroke-width="0.9"/></svg>
<div class="r " style="left:309.20px;top:339.00px;width:319.00px;height:198.60px;background:#fff;border:2.8px solid #000;"></div>
<div class="r " style="left:469.30px;top:342.00px;width:1.00px;height:178.50px;background:#eeeaea;"></div>
<div class="r " style="left:559.70px;top:342.00px;width:1.00px;height:178.50px;background:#eeeaea;"></div>
<div class="r " style="left:380.00px;top:362.70px;width:245.60px;height:1.00px;background:#eeeaea;"></div>
<div class="r " style="left:380.00px;top:402.20px;width:245.60px;height:1.00px;background:#eeeaea;"></div>
<div class="r " style="left:380.00px;top:441.50px;width:245.60px;height:1.00px;background:#eeeaea;"></div>
<div class="r " style="left:380.00px;top:480.90px;width:245.60px;height:1.00px;background:#eeeaea;"></div>
<svg width="685" height="567" viewBox="0 0 685 567"><defs><clipPath id="pc"><rect x="312" y="341.8" width="313.4" height="193"/></clipPath></defs><g clip-path="url(#pc)" fill-opacity="0.92"><g stroke="#3a3a3a" stroke-width="1.1" fill="none"><path d="M379.6 342 V521.3 M379 520.8 H625.6"/><path d="M379.6 363.2 h5.4 M379.6 402.7 h5.4 M379.6 442 h5.4 M379.6 481.4 h5.4 M469.8 520.8 v-5.4 M560 520.8 v-5.4"/></g><g fill="#f6a821"><circle cx="417.1" cy="519.4" r="4.05"/><circle cx="421.8" cy="519.4" r="4.05"/><circle cx="432.6" cy="520.8" r="4.05"/><circle cx="454.1" cy="506.7" r="4.05"/><circle cx="456.8" cy="500.0" r="4.05"/><circle cx="460.3" cy="501.4" r="4.05"/><circle cx="461.2" cy="513.8" r="4.05"/><circle cx="463.8" cy="481.5" r="4.05"/><circle cx="468.2" cy="509.7" r="4.05"/><circle cx="474.4" cy="509.7" r="4.05"/><circle cx="476.2" cy="506.2" r="4.05"/><circle cx="493.8" cy="466.5" r="4.05"/><circle cx="495.6" cy="475.3" r="4.05"/><circle cx="503.0" cy="476.2" r="4.05"/><circle cx="505.8" cy="482.4" r="4.05"/><circle cx="508.8" cy="487.6" r="4.05"/><circle cx="510.9" cy="493.8" r="4.05"/><circle cx="486.4" cy="486.2" r="4.05"/><circle cx="488.5" cy="489.1" r="4.05"/><circle cx="490.6" cy="491.2" r="4.05"/><circle cx="495.6" cy="504.9" r="4.05"/><circle cx="498.2" cy="504.9" r="4.05"/><circle cx="522.0" cy="475.8" r="4.05"/><circle cx="528.2" cy="503.2" r="4.05"/></g><g fill="#4f6d77"><circle cx="528.2" cy="454.1" r="4.05"/><circle cx="530.3" cy="456.2" r="4.05"/><circle cx="547.1" cy="467.9" r="4.05"/><circle cx="542.6" cy="473.5" r="4.05"/><circle cx="545.3" cy="474.9" r="4.05"/><circle cx="549.2" cy="472.6" r="4.05"/><circle cx="555.5" cy="471.8" r="4.05"/><circle cx="559.9" cy="486.2" r="4.05"/><circle cx="573.2" cy="497.9" r="4.05"/><circle cx="578.8" cy="492.9" r="4.05"/><circle cx="585.0" cy="470.0" r="4.05"/><circle cx="585.9" cy="472.1" r="4.05"/><circle cx="591.5" cy="473.2" r="4.05"/><circle cx="586.8" cy="477.6" r="4.05"/><circle cx="596.8" cy="445.8" r="4.05"/><circle cx="610.6" cy="451.5" r="4.05"/><circle cx="607.9" cy="465.6" r="4.05"/><circle cx="608.5" cy="481.5" r="4.05"/><circle cx="613.2" cy="481.5" r="4.05"/><circle cx="616.8" cy="480.9" r="4.05"/><circle cx="620.3" cy="481.5" r="4.05"/><circle cx="623.8" cy="481.5" r="4.05"/></g><g fill="#e5307a"><circle cx="582.8" cy="352.2" r="4.05"/><circle cx="617.9" cy="346.9" r="4.05"/><circle cx="548.0" cy="374.5" r="4.05"/><circle cx="556.5" cy="375.9" r="4.05"/><circle cx="546.8" cy="381.9" r="4.05"/><circle cx="554.4" cy="387.6" r="4.05"/><circle cx="548.5" cy="389.3" r="4.05"/><circle cx="583.4" cy="382.9" r="4.05"/><circle cx="610.9" cy="382.9" r="4.05"/><circle cx="614.1" cy="382.9" r="4.05"/><circle cx="574.9" cy="398.2" r="4.05"/><circle cx="582.3" cy="398.2" r="4.05"/><circle cx="595.0" cy="404.5" r="4.05"/><circle cx="601.0" cy="400.9" r="4.05"/></g><g fill="#0c7bcb"><circle cx="437.9" cy="397.9" r="4.05"/><circle cx="441.5" cy="394.4" r="4.05"/><circle cx="444.1" cy="400.6" r="4.05"/><circle cx="446.8" cy="397.9" r="4.05"/><circle cx="451.2" cy="388.2" r="4.05"/><circle cx="453.8" cy="392.6" r="4.05"/><circle cx="456.5" cy="390.9" r="4.05"/><circle cx="450.3" cy="403.2" r="4.05"/><circle cx="453.8" cy="400.6" r="4.05"/><circle cx="457.3" cy="404.1" r="4.05"/><circle cx="460.9" cy="400.6" r="4.05"/><circle cx="463.5" cy="393.5" r="4.05"/><circle cx="466.2" cy="403.2" r="4.05"/><circle cx="469.7" cy="397.9" r="4.05"/><circle cx="473.2" cy="401.5" r="4.05"/><circle cx="448.5" cy="412.1" r="4.05"/><circle cx="452.1" cy="414.7" r="4.05"/><circle cx="455.6" cy="409.4" r="4.05"/><circle cx="459.1" cy="412.9" r="4.05"/><circle cx="462.6" cy="407.6" r="4.05"/><circle cx="466.2" cy="411.2" r="4.05"/><circle cx="469.7" cy="407.6" r="4.05"/><circle cx="473.2" cy="411.2" r="4.05"/><circle cx="454.7" cy="418.2" r="4.05"/><circle cx="458.2" cy="420.9" r="4.05"/><circle cx="460.9" cy="416.5" r="4.05"/><circle cx="451.2" cy="416.5" r="4.05"/><circle cx="464.4" cy="413.8" r="4.05"/><circle cx="467.9" cy="405.9" r="4.05"/><circle cx="471.5" cy="405.0" r="4.05"/><circle cx="460.0" cy="395.3" r="4.05"/><circle cx="474.4" cy="382.6" r="4.05"/><circle cx="475.3" cy="391.5" r="4.05"/><circle cx="462.9" cy="393.2" r="4.05"/><circle cx="456.8" cy="391.5" r="4.05"/><circle cx="459.4" cy="398.5" r="4.05"/><circle cx="463.8" cy="401.2" r="4.05"/><circle cx="468.2" cy="402.9" r="4.05"/><circle cx="472.6" cy="401.2" r="4.05"/><circle cx="477.1" cy="402.1" r="4.05"/><circle cx="481.5" cy="399.4" r="4.05"/><circle cx="483.2" cy="403.8" r="4.05"/><circle cx="487.6" cy="409.1" r="4.05"/><circle cx="477.9" cy="414.4" r="4.05"/><circle cx="472.6" cy="408.2" r="4.05"/><circle cx="467.4" cy="410.0" r="4.05"/><circle cx="462.1" cy="411.8" r="4.05"/><circle cx="457.6" cy="415.3" r="4.05"/><circle cx="457.6" cy="421.5" r="4.05"/><circle cx="462.9" cy="406.5" r="4.05"/><circle cx="479.7" cy="406.5" r="4.05"/><circle cx="455.9" cy="404.7" r="4.05"/><circle cx="470.0" cy="398.5" r="4.05"/></g><g fill="#08b3bf"><circle cx="481.5" cy="377.4" r="4.05"/><circle cx="486.8" cy="378.2" r="4.05"/><circle cx="493.8" cy="371.2" r="4.05"/><circle cx="498.2" cy="376.5" r="4.05"/><circle cx="500.9" cy="380.0" r="4.05"/><circle cx="507.1" cy="373.8" r="4.05"/><circle cx="507.9" cy="379.1" r="4.05"/><circle cx="497.4" cy="383.5" r="4.05"/><circle cx="502.6" cy="385.3" r="4.05"/><circle cx="489.4" cy="386.2" r="4.05"/><circle cx="492.1" cy="390.6" r="4.05"/><circle cx="495.6" cy="393.2" r="4.05"/><circle cx="500.0" cy="391.5" r="4.05"/><circle cx="504.4" cy="389.7" r="4.05"/><circle cx="508.8" cy="387.1" r="4.05"/><circle cx="512.3" cy="387.9" r="4.05"/><circle cx="488.5" cy="395.9" r="4.05"/><circle cx="492.9" cy="400.3" r="4.05"/><circle cx="497.4" cy="397.6" r="4.05"/><circle cx="501.8" cy="398.5" r="4.05"/><circle cx="506.2" cy="402.1" r="4.05"/><circle cx="489.4" cy="401.2" r="4.05"/><circle cx="494.7" cy="402.9" r="4.05"/><circle cx="516.8" cy="394.1" r="4.05"/><circle cx="515.9" cy="389.7" r="4.05"/><circle cx="521.2" cy="392.4" r="4.05"/><circle cx="523.8" cy="375.6" r="4.05"/><circle cx="526.5" cy="380.0" r="4.05"/><circle cx="529.1" cy="384.4" r="4.05"/><circle cx="525.6" cy="391.5" r="4.05"/><circle cx="522.9" cy="386.2" r="4.05"/><circle cx="530.9" cy="378.2" r="4.05"/><circle cx="533.5" cy="382.6" r="4.05"/><circle cx="537.1" cy="378.2" r="4.05"/><circle cx="537.9" cy="385.3" r="4.05"/><circle cx="540.6" cy="382.6" r="4.05"/><circle cx="541.5" cy="387.9" r="4.05"/><circle cx="539.7" cy="395.0" r="4.05"/><circle cx="518.5" cy="417.1" r="4.05"/><circle cx="510.6" cy="393.2" r="4.05"/><circle cx="505.3" cy="394.1" r="4.05"/><circle cx="527.3" cy="387.9" r="4.05"/><circle cx="534.4" cy="387.9" r="4.05"/><circle cx="507.9" cy="391.5" r="4.05"/><circle cx="513.2" cy="392.4" r="4.05"/><circle cx="502.6" cy="395.0" r="4.05"/><circle cx="499.1" cy="387.9" r="4.05"/><circle cx="532.6" cy="387.1" r="4.05"/><circle cx="536.2" cy="382.6" r="4.05"/></g><g fill="#ea2f2c"><circle cx="377.9" cy="442.1" r="4.05"/><circle cx="381.5" cy="440.3" r="4.05"/><circle cx="384.1" cy="439.4" r="4.05"/><circle cx="386.8" cy="439.1" r="4.05"/><circle cx="395.6" cy="436.8" r="4.05"/><circle cx="398.2" cy="434.1" r="4.05"/><circle cx="397.4" cy="430.6" r="4.05"/><circle cx="401.8" cy="427.9" r="4.05"/><circle cx="402.6" cy="430.6" r="4.05"/><circle cx="407.1" cy="432.3" r="4.05"/><circle cx="406.2" cy="427.9" r="4.05"/><circle cx="408.8" cy="418.2" r="4.05"/><circle cx="409.7" cy="425.3" r="4.05"/><circle cx="411.5" cy="421.8" r="4.05"/><circle cx="414.1" cy="426.2" r="4.05"/><circle cx="415.9" cy="422.6" r="4.05"/><circle cx="417.6" cy="420.9" r="4.05"/><circle cx="419.4" cy="425.3" r="4.05"/><circle cx="421.2" cy="418.2" r="4.05"/><circle cx="423.8" cy="431.5" r="4.05"/><circle cx="422.9" cy="421.8" r="4.05"/><circle cx="425.6" cy="420.9" r="4.05"/><circle cx="426.5" cy="412.9" r="4.05"/><circle cx="428.2" cy="406.8" r="4.05"/><circle cx="430.0" cy="400.6" r="4.05"/><circle cx="429.1" cy="416.5" r="4.05"/><circle cx="430.9" cy="420.9" r="4.05"/><circle cx="432.6" cy="412.1" r="4.05"/><circle cx="433.5" cy="424.4" r="4.05"/><circle cx="434.4" cy="418.2" r="4.05"/><circle cx="436.2" cy="414.7" r="4.05"/><circle cx="437.1" cy="421.8" r="4.05"/><circle cx="437.9" cy="412.1" r="4.05"/><circle cx="439.7" cy="416.5" r="4.05"/><circle cx="440.6" cy="422.6" r="4.05"/><circle cx="441.5" cy="412.9" r="4.05"/><circle cx="442.3" cy="419.1" r="4.05"/><circle cx="443.2" cy="411.2" r="4.05"/><circle cx="444.1" cy="415.6" r="4.05"/><circle cx="445.0" cy="420.0" r="4.05"/><circle cx="428.2" cy="424.4" r="4.05"/><circle cx="413.2" cy="429.7" r="4.05"/><circle cx="418.5" cy="427.9" r="4.05"/><circle cx="404.4" cy="433.2" r="4.05"/><circle cx="424.7" cy="426.2" r="4.05"/><circle cx="430.0" cy="426.2" r="4.05"/><circle cx="435.3" cy="425.3" r="4.05"/><circle cx="438.8" cy="423.5" r="4.05"/></g></g><circle cx="316.2" cy="407.30" r="3.75" fill="#1b8fe0"/><circle cx="316.2" cy="419.94" r="3.75" fill="#ef514d"/><circle cx="316.2" cy="432.58" r="3.75" fill="#f8b52a"/><circle cx="316.2" cy="445.22" r="3.75" fill="#607b85"/><circle cx="316.2" cy="457.86" r="3.75" fill="#10b9c4"/><circle cx="316.2" cy="470.50" r="3.75" fill="#e73d8b"/></svg>
<span class="t" style="left:322.70px;top:402.70px;font:8px/9.60px 'Liberation Sans',sans-serif;color:#1a1a1a;transform:scaleX(0.9483);-webkit-text-stroke:0.25px #1a1a1a;">1 кластер</span>
<span class="t" style="left:322.70px;top:415.34px;font:8px/9.60px 'Liberation Sans',sans-serif;color:#1a1a1a;transform:scaleX(0.9483);-webkit-text-stroke:0.25px #1a1a1a;">2 кластер</span>
<span class="t" style="left:322.70px;top:427.98px;font:8px/9.60px 'Liberation Sans',sans-serif;color:#1a1a1a;transform:scaleX(0.9483);-webkit-text-stroke:0.25px #1a1a1a;">3 кластер</span>
<span class="t" style="left:322.70px;top:440.62px;font:8px/9.60px 'Liberation Sans',sans-serif;color:#1a1a1a;transform:scaleX(0.9483);-webkit-text-stroke:0.25px #1a1a1a;">4 кластер</span>
<span class="t" style="left:322.70px;top:453.26px;font:8px/9.60px 'Liberation Sans',sans-serif;color:#1a1a1a;transform:scaleX(0.9483);-webkit-text-stroke:0.25px #1a1a1a;">5 кластер</span>
<span class="t" style="left:322.70px;top:465.90px;font:8px/9.60px 'Liberation Sans',sans-serif;color:#1a1a1a;transform:scaleX(0.9483);-webkit-text-stroke:0.25px #1a1a1a;">6 кластер</span>
<span class="t" style="left:363.85px;top:358.04px;font:8.6px/10.32px 'Liberation Serif',serif;color:#333;">0.7</span>
<span class="t" style="left:363.85px;top:397.34px;font:8.6px/10.32px 'Liberation Serif',serif;color:#333;">0.2</span>
<span class="t" style="left:359.00px;top:437.04px;font:8.6px/10.32px 'Liberation Serif',serif;color:#333;">−0.3</span>
<span class="t" style="left:359.00px;top:476.24px;font:8.6px/10.32px 'Liberation Serif',serif;color:#333;">−0.8</span>
<span class="t" style="left:372.70px;top:522.54px;font:8.6px/10.32px 'Liberation Serif',serif;color:#333;">−1.1</span>
<span class="t" style="left:461.80px;top:522.54px;font:8.6px/10.32px 'Liberation Serif',serif;color:#333;">−0.1</span>
<span class="t" style="left:552.00px;top:522.54px;font:8.6px/10.32px 'Liberation Serif',serif;color:#333;">−0.9</span>
<svg width="685" height="567" viewBox="0 0 685 567"><defs><linearGradient id="lg" x1="238" y1="0" x2="266" y2="0" gradientUnits="userSpaceOnUse"><stop offset="0" stop-color="#c744c8"/><stop offset="0.55" stop-color="#7a55d8"/><stop offset="1" stop-color="#2f86ea"/></linearGradient></defs><g stroke="url(#lg)" fill="none" stroke-width="0.9" opacity="0.5"><path d="M251.6 45.2 C248 43.6 244.6 45.4 244.4 48.4 C241.8 49.4 241.4 52.6 243.2 54.2 C242.2 57 244.6 59.4 247 58.8 C248.2 60.8 250.6 60.6 251.6 59.2 Z"/><path d="M251.6 45.2 C255.2 43.6 258.6 45.4 258.8 48.4 C261.4 49.4 261.8 52.6 260 54.2 C261 57 258.6 59.4 256.2 58.8 C255 60.8 252.6 60.6 251.6 59.2"/><path d="M246.6 49.4 l2.6 1.6 M249.4 54.6 l-2.8 1.2 M256.6 49.4 l-2.6 1.6 M253.8 54.6 l2.8 1.2 M251.6 47.6 v9.4"/><path d="M247 44.6 V40.6 M252.2 44.4 V42 M256.4 44.8 l1.4 -2.4 M244 48.4 l-2.6 -1.8 M259.4 48.6 l5.4 -1.8 M242.4 52 h-2.2 M261 52 h2.8 M243 55.8 l-3.2 2.2 M260.4 56 l3.2 1.8 M247 59.4 V62 M252.2 60.4 v2 M256.4 59.6 l1.4 3.2"/></g><g fill="url(#lg)" opacity="0.8"><circle cx="247" cy="40.3" r="1.0"/><circle cx="252.2" cy="41.9" r="1.0"/><circle cx="257.5" cy="42.4" r="1.0"/><circle cx="241.1" cy="46.6" r="1.0"/><circle cx="264.9" cy="46.6" r="1.0"/><circle cx="240.1" cy="52" r="1.0"/><circle cx="263.9" cy="52" r="1.0"/><circle cx="239.5" cy="57.8" r="1.0"/><circle cx="263.4" cy="57.8" r="1.0"/><circle cx="247" cy="62" r="1.0"/><circle cx="252.2" cy="62.3" r="1.0"/><circle cx="257.5" cy="63.4" r="1.0"/><circle cx="249.2" cy="51" r="1.0"/><circle cx="254" cy="51" r="1.0"/><circle cx="246.7" cy="55.8" r="1.0"/><circle cx="256.6" cy="55.8" r="1.0"/></g><g stroke="#f4f4f8" stroke-width="1.3" fill="none"><rect x="236.5" y="79.4" width="12.6" height="4" rx="1.8"/><rect x="236.5" y="83.4" width="12.6" height="4" rx="1.8"/><rect x="236.5" y="87.4" width="12.6" height="4" rx="1.8"/><path d="M239 81.4 h1.2 M241.4 81.4 h4.6 M239 85.4 h1.2 M241.4 85.4 h4.6 M239 89.4 h1.2 M241.4 89.4 h4.6" stroke-width="1"/></g><g stroke="#f4f4f8" stroke-width="1.25" fill="none" stroke-linejoin="round"><path d="M241.39 107.27 L244.41 107.27 L244.38 109.13 L246.11 110.13 L247.71 109.18 L249.22 111.79 L247.60 112.70 L247.60 114.70 L249.22 115.61 L247.71 118.22 L246.11 117.27 L244.38 118.27 L244.41 120.13 L241.39 120.13 L241.42 118.27 L239.69 117.27 L238.09 118.22 L236.58 115.61 L238.20 114.70 L238.20 112.70 L236.58 111.79 L238.09 109.18 L239.69 110.13 L241.42 109.13 Z"/><circle cx="242.8" cy="113.5" r="2.2"/></g><g stroke="#f4f4f8" stroke-width="1.3" fill="none" stroke-linejoin="round"><path d="M239.4 135.4 H245.2 L248.4 138.6 V146.8 Q248.4 148.4 246.8 148.4 H239.4 Q237.8 148.4 237.8 146.8 V137 Q237.8 135.4 239.4 135.4 Z"/><path d="M245 135.6 V138.8 H248.2" stroke-width="1"/><rect x="240.4" y="142.6" width="5.4" height="3" stroke-width="1.1"/><path d="M240.2 139.4 h2.4" stroke-width="1.3"/></g><g stroke="#f4f4f8" stroke-width="1.4" fill="none" stroke-linecap="round" stroke-linejoin="round"><path d="M237 162.8 V173.6 Q237 175.6 239 175.6 H249.6"/><path d="M241.2 173 v-5.4 M244.4 173 v-6.6 M247.6 173 v-5.2" stroke-width="1.5"/><path d="M239.4 165.6 L242.6 163.8 L245.8 165.6 L249.6 162.8" stroke-width="1.1"/></g><g opacity="0.85"><path d="M237.4 191.4 V203.2 H249" stroke="#b9bbd0" stroke-width="0.9" fill="none"/><path d="M239.6 201 L247.8 193.2" stroke="#d8d9e6" stroke-width="0.8"/><g fill="#f4f4f8"><circle cx="239.8" cy="199.4" r="0.8"/><circle cx="241.6" cy="200.8" r="0.8"/><circle cx="241.4" cy="197.4" r="0.8"/><circle cx="243.4" cy="198.6" r="0.8"/><circle cx="243.6" cy="195.6" r="0.8"/><circle cx="245.6" cy="196.8" r="0.8"/><circle cx="245.8" cy="193.8" r="0.8"/><circle cx="247.6" cy="195" r="0.8"/><circle cx="247.6" cy="192.4" r="0.8"/></g></g><g opacity="0.85"><path d="M237.4 219.8 V231.4 H249.2" stroke="#b9bbd0" stroke-width="0.9" fill="none"/><path d="M239 220.6 H249 M239 229.2 H249" stroke="#a9abc4" stroke-width="0.8" stroke-dasharray="1 1.4"/><path d="M238.2 227.6 L242.2 223.2 L245.4 225.8 L249 222.2" stroke="#f4f4f8" stroke-width="1.1" fill="none"/></g><g stroke="#f4f4f8" stroke-width="1.4" fill="none" stroke-linejoin="round"><path d="M238.2 247.2 H246.6 L249.4 250 V258 Q249.4 259.6 247.8 259.6 H238.2 Q236.8 259.6 236.8 258.2 V248.6 Q236.8 247.2 238.2 247.2 Z"/><path d="M240.2 247.4 V250.2 H246.2 V247.4" stroke-width="1.1"/><circle cx="243" cy="254.8" r="1.7" stroke-width="1.3"/></g></svg>
</body></html>
